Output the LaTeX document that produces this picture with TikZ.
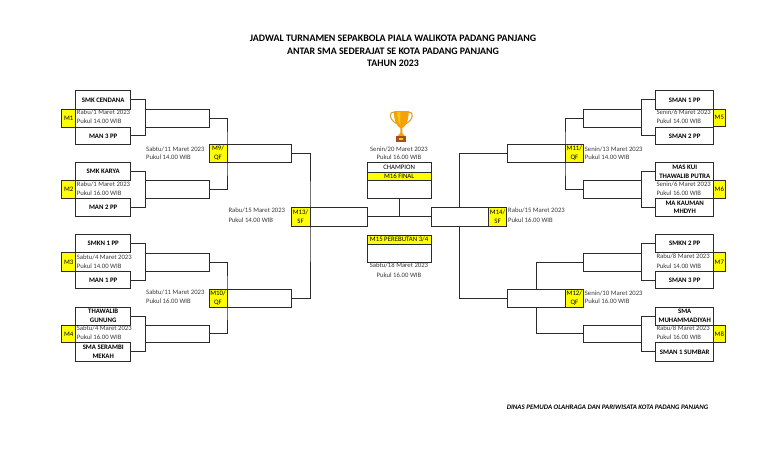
\documentclass[tikz,border=0pt]{standalone}
\usepackage{fontspec}
\setmainfont{Carlito}
\definecolor{ln}{HTML}{2B2B2B}
\definecolor{yel}{HTML}{FFFF00}
\definecolor{txt}{HTML}{3A3A3A}
\tikzset{
  line/.style={draw=ln,line width=1pt},
  cell/.style={line,fill=white,anchor=north west,inner sep=0pt,outer sep=0pt,align=center,font=\fontsize{6.8}{8.8}\selectfont\bfseries,text=black},
  ycell/.style={line,fill=yel,anchor=north west,inner sep=0pt,outer sep=0pt,align=center,font=\fontsize{6.8}{9}\selectfont,text=black},
  info/.style={anchor=west,inner sep=0pt,font=\fontsize{6.7}{7}\selectfont,text=txt},
  infoc/.style={anchor=center,inner sep=0pt,font=\fontsize{6.7}{7}\selectfont,text=txt},
  ttl/.style={anchor=center,inner sep=0pt,font=\fontsize{9.9}{11}\selectfont\bfseries,text=black},
}
\newcommand{\boxat}[7]{\node[#1,minimum width=#4pt,minimum height=#5pt] (#6) at (#2,#3) {#7};}
\begin{document}
\begin{tikzpicture}[x=1pt,y=-1pt]
\useasboundingbox (0,0) rectangle (768,466);
% title
\node[ttl] (t1) at (393,38.7) {JADWAL TURNAMEN SEPAKBOLA PIALA WALIKOTA PADANG PANJANG};
\node[ttl] (t2) at (393,51) {ANTAR SMA SEDERAJAT SE KOTA PADANG PANJANG};
\node[ttl] (t3) at (393,63) {TAHUN 2023};
\node[anchor=center,inner sep=0pt,font=\fontsize{6.85}{7}\selectfont\bfseries\itshape] (foot) at (607.5,407.7) {DINAS PEMUDA OLAHRAGA DAN PARIWISATA KOTA PADANG PANJANG};
% left teams
\boxat{cell}{75.7}{90.7}{55}{18.3}{a1}{SMK CENDANA}
\boxat{cell}{75.7}{127.3}{55}{17}{a2}{MAN 3 PP}
\boxat{cell}{75.7}{162.7}{55}{18}{a3}{SMK KARYA}
\boxat{cell}{75.7}{198.3}{55}{18}{a4}{MAN 2 PP}
\boxat{cell}{75.7}{234.3}{55}{18.4}{a5}{SMKN 1 PP}
\boxat{cell}{75.7}{271.5}{55}{17}{a6}{MAN 1 PP}
\boxat{cell}{75.7}{307}{55}{18}{a7}{THAWALIB\\GUNUNG}
\boxat{cell}{75.7}{342.7}{55}{18.3}{a8}{SMA SERAMBI\\MEKAH}
% left match tags
\boxat{ycell}{61.7}{109}{14}{18}{m1}{M1}
\boxat{ycell}{61.7}{180.7}{14}{17.6}{m2}{M2}
\boxat{ycell}{61.7}{252.7}{14}{18.8}{m3}{M3}
\boxat{ycell}{61.7}{325}{14}{17.7}{m4}{M4}
% left second column
\boxat{cell}{145}{109}{64}{18.3}{b1}{}
\boxat{cell}{145}{180.7}{64}{17.6}{b2}{}
\boxat{cell}{145}{253}{64}{18.3}{b3}{}
\boxat{cell}{145}{325}{64}{17.7}{b4}{}
\boxat{ycell}{209}{144.5}{18}{18}{m9}{M9/\\QF}
\boxat{ycell}{209}{289}{18}{18}{m10}{M10/\\QF}
\boxat{cell}{227}{144.5}{64}{18}{c1}{}
\boxat{cell}{227}{289}{64}{18}{c2}{}
\boxat{ycell}{291}{207.5}{19}{18.5}{m13}{M13/\\SF}
\boxat{cell}{310}{207.5}{57.3}{18.5}{d1}{}
% centre
\boxat{cell}{367.3}{162.7}{63.7}{9.3}{champ}{\mdseries CHAMPION}
\boxat{ycell}{367.3}{172}{63.7}{8.5}{m16}{M16 FINAL}
\boxat{cell}{367.3}{180.5}{63.7}{17.8}{f1}{}
\boxat{ycell}{367.3}{235}{63.7}{9}{m15}{M15 PEREBUTAN 3/4}
\boxat{cell}{367.3}{244}{63.7}{18.3}{f2}{}
% right side
\boxat{cell}{431}{207.5}{57.3}{18.5}{d2}{}
\boxat{ycell}{488.3}{207.5}{18.6}{18.5}{m14}{M14/\\SF}
\boxat{cell}{507.3}{144.5}{57.7}{18}{c3}{}
\boxat{ycell}{565}{144.5}{18.7}{18}{m11}{M11/\\QF}
\boxat{cell}{507.3}{289}{57.7}{18}{c4}{}
\boxat{ycell}{565}{289}{18.7}{18}{m12}{M12/\\QF}
\boxat{cell}{583.7}{109}{58}{18.3}{b5}{}
\boxat{cell}{583.7}{180.7}{58}{17.6}{b6}{}
\boxat{cell}{583.7}{253}{58}{18.3}{b7}{}
\boxat{cell}{583.7}{325}{58}{17.7}{b8}{}
\boxat{cell}{655.7}{90.7}{58}{18.3}{e1}{SMAN 1 PP}
\boxat{cell}{655.7}{127.3}{58}{17}{e2}{SMAN 2 PP}
\boxat{cell}{655.7}{162.7}{58}{18}{e3}{MAS KUI\\THAWALIB PUTRA}
\boxat{cell}{655.7}{198.3}{58}{18}{e4}{MA KAUMAN\\MHDYH}
\boxat{cell}{655.7}{234.3}{58}{18.4}{e5}{SMKN 2 PP}
\boxat{cell}{655.7}{271.5}{58}{17}{e6}{SMAN 3 PP}
\boxat{cell}{655.7}{307}{58}{18}{e7}{SMA\\MUHAMMADIYAH}
\boxat{cell}{655.7}{342.7}{58}{18.3}{e8}{SMAN 1 SUMBAR}
\boxat{ycell}{713.7}{109}{11.3}{17.5}{m5}{M5}
\boxat{ycell}{713.7}{180.7}{11.3}{17.6}{m6}{M6}
\boxat{ycell}{713.7}{252.7}{11.3}{18.8}{m7}{M7}
\boxat{ycell}{713.7}{325}{11.3}{17.7}{m8}{M8}
% connectors left
\draw[line] (a1.east) -| (b1.west) |- (a2.east);
\draw[line] (a3.east) -| (b2.west) |- (a4.east);
\draw[line] (a5.east) -| (b3.west) |- (a6.east);
\draw[line] (a7.east) -| (b4.west) |- (a8.east);
\draw[line] (b1.east) -| (m9.north east) -- (m9.south east) |- (b2.east);
\draw[line] (b3.east) -| (m10.north east) -- (m10.south east) |- (b4.east);
\draw[line] (c1.east) -| (m13.north east) -- (m13.south east) |- (c2.east);
% centre
\draw[line] (d1.east) -- (d2.west);
\coordinate (fin) at (399,216.7);
\draw[line] (f1.south -| fin) -- (fin);
% connectors right
\draw[line] (d2.north -| 459.3,0) |- (c3.west);
\draw[line] (d2.south -| 459.3,0) |- (c4.west);
\draw[line] (c4.north -| 536,0) |- (b7.west);
\draw[line] (c4.south -| 536,0) |- (b8.west);
\draw[line] (b5.west) -| (m11.north west) -- (m11.south west) |- (b6.west);
\draw[line] (e1.west) -| (b5.east) |- (e2.west);
\draw[line] (e3.west) -| (b6.east) |- (e4.west);
\draw[line] (e5.west) -| (b7.east) |- (e6.west);
\draw[line] (e7.west) -| (b8.east) |- (e8.west);
% date labels
\node[info] (l1a) at (76.7,112.7) {Rabu/1 Maret 2023};
\node[info] (l1b) at (76.7,121.3) {Pukul 14.00 WIB};
\node[info] (l2a) at (76.7,184.7) {Rabu/1 Maret 2023};
\node[info] (l2b) at (76.7,192.7) {Pukul 16.00 WIB};
\node[info] (l3a) at (76.7,257) {Sabtu/4 Maret 2023};
\node[info] (l3b) at (76.7,265.7) {Pukul 14.00 WIB};
\node[info] (l4a) at (76.7,328.7) {Sabtu/4 Maret 2023};
\node[info] (l4b) at (76.7,337) {Pukul 16.00 WIB};
\node[info] (l9a) at (146,149) {Sabtu/11 Maret 2023};
\node[info] (l9b) at (146,157) {Pukul 14.00 WIB};
\node[info] (l10a) at (146,292.7) {Sabtu/11 Maret 2023};
\node[info] (l10b) at (146,301.3) {Pukul 16.00 WIB};
\node[info] (l13a) at (228.3,210.7) {Rabu/15 Maret 2023};
\node[info] (l13b) at (228.3,220) {Pukul 14.00 WIB};
\node[info] (l14a) at (508,210.7) {Rabu/15 Maret 2023};
\node[info] (l14b) at (508,220) {Pukul 16.00 WIB};
\node[info] (l11a) at (584.7,149) {Senin/13 Maret 2023};
\node[info] (l11b) at (584.7,157) {Pukul 14.00 WIB};
\node[info] (l12a) at (584.7,293) {Senin/10 Maret 2023};
\node[info] (l12b) at (584.7,301.3) {Pukul 16.00 WIB};
\node[info] (l5a) at (656.3,112.7) {Senin/6 Maret 2023};
\node[info] (l5b) at (656.3,121.3) {Pukul 14.00 WIB};
\node[info] (l6a) at (656.3,184.7) {Senin/6 Maret 2023};
\node[info] (l6b) at (656.3,192.7) {Pukul 16.00 WIB};
\node[info] (l7a) at (656.3,256.7) {Rabu/8 Maret 2023};
\node[info] (l7b) at (656.3,265.7) {Pukul 14.00 WIB};
\node[info] (l8a) at (656.3,328.7) {Rabu/8 Maret 2023};
\node[info] (l8b) at (656.3,337) {Pukul 16.00 WIB};
\node[infoc] (l16a) at (399,149) {Senin/20 Maret 2023};
\node[infoc] (l16b) at (399,157) {Pukul 16.00 WIB};
\node[infoc] (l15a) at (399,265.7) {Sabtu/18 Maret 2023};
\node[infoc] (l15b) at (399,275) {Pukul 16.00 WIB};
% trophy
\begin{scope}[shift={(401.3,0)}]
\draw[draw=brown!70!yellow,line width=1.1pt,fill=none] (-7,112.5) .. controls (-13,111) and (-12.5,120) .. (-4,124);
\draw[draw=brown!70!yellow,line width=1.1pt,fill=none] (7,112.5) .. controls (13,111) and (12.5,120) .. (4,124);
\fill[orange!70!yellow!85!brown] (-7.5,111) -- (7.5,111) .. controls (7.5,121) and (4,127) .. (1,128) -- (1,133) -- (3.5,136) -- (-3.5,136) -- (-1,133) -- (-1,128) .. controls (-4,127) and (-7.5,121) .. (-7.5,111) -- cycle;
\fill[yellow!60!orange] (-4,112) -- (-1,112) -- (-1,125) .. controls (-3,123) and (-4,118) .. (-4,112) -- cycle;
\fill[brown!75!red!80!black] (-5,136) rectangle (5,141.5);
\fill[yellow!70!orange] (-2,137.5) rectangle (2,139.5);
\end{scope}
\end{tikzpicture}
\end{document}
